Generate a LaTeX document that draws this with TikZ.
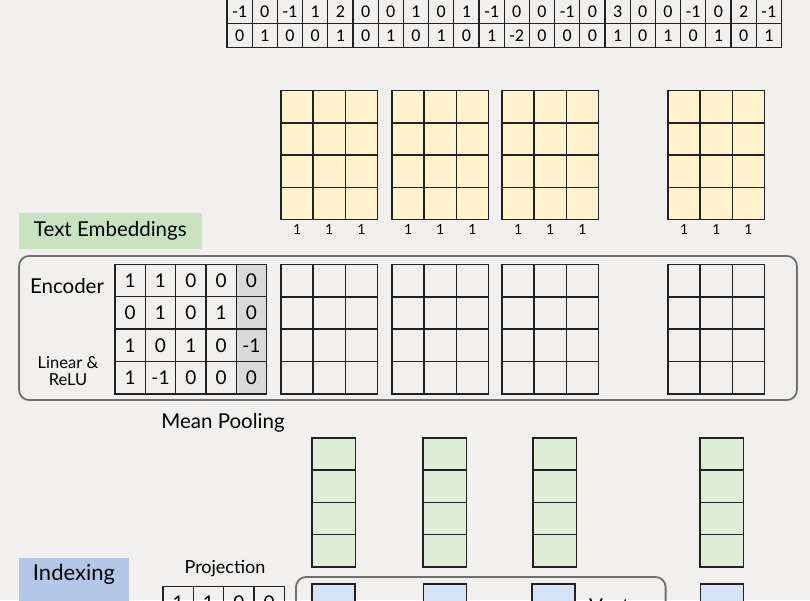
\documentclass[tikz,border=0pt]{standalone}
\usepackage{fontspec}
\setmainfont{Lato}
\newfontfamily\tablefont{Carlito}
\usepackage{tikz}

\definecolor{paper}{HTML}{F1F0EE}
\definecolor{yellowcell}{HTML}{FFF2CC}
\definecolor{greencell}{HTML}{DFEED7}
\definecolor{bluecell}{HTML}{D6E2F5}
\definecolor{greenlabel}{HTML}{C9E3C1}
\definecolor{bluelabel}{HTML}{B3C8E9}
\definecolor{graycell}{HTML}{D9D9D9}
\definecolor{framegray}{HTML}{707070}
\definecolor{ink}{HTML}{222222}

\begin{document}
\begin{tikzpicture}[x=1pt, y=-1pt,
    topcell/.style={draw=ink, line width=1.3pt, minimum width=25.2pt, minimum height=24.1pt, inner sep=0pt, font=\tablefont\fontsize{18}{18}\selectfont},
    cell/.style={draw=ink, line width=1.5pt, minimum width=32.2pt, minimum height=32.3pt, inner sep=0pt},
    numcell/.style={draw=ink, line width=1.5pt, minimum width=30.3pt, minimum height=32.4pt, inner sep=0pt, font=\fontsize{19}{19}\selectfont},
    group/.style={draw=framegray, line width=1.8pt, rounded corners=10pt},
    heading/.style={inner sep=0pt, font=\fontsize{20.5}{20.5}\selectfont},
    small/.style={inner sep=0pt, font=\fontsize{14}{14}\selectfont}]
  \useasboundingbox (0,0) rectangle (810,600);
  \fill[paper] (0,0) rectangle (810,600);
  \clip (0,0) rectangle (810,600);

  % token table
  \foreach \v [count=\c from 0] in {-1,0,-1,1,2,0,0,1,0,1,-1,0,0,-1,0,3,0,0,-1,0,2,-1}
    \node[topcell] (ta\c) at (239.6+25.2*\c, 11.3) {\v};
  \foreach \v [count=\c from 0] in {0,1,0,0,1,0,1,0,1,0,1,-2,0,0,0,1,0,1,0,1,0,1}
    \node[topcell] (tb\c) at (239.6+25.2*\c, 35.4) {\v};

  % token embeddings
  \foreach \x [count=\g] in {281,392,502,668} {
    \foreach \r in {0,...,3}
      \foreach \c in {0,1,2}
        \node[cell, fill=yellowcell] (y\g-\r-\c) at (\x+16.1+32.2*\c, 106.8+32.2*\r) {};
    \foreach \c in {0,1,2}
      \node[small] (w\g-\c) at (\x+16.1+32.2*\c, 229) {1};
  }

  \node[heading, fill=greenlabel, minimum width=182.7pt, minimum height=36.6pt] (embed) at (110.3,231) {Text Embeddings};

  % encoder
  \draw[group] (19,256) rectangle (797,400);
  \node[heading] (encoder) at (67,286) {Encoder};
  \node[small, align=center, font=\fontsize{16.5}{16.5}\selectfont] (relu) at (68,371) {Linear \&\\[1pt]ReLU};
  \foreach \row [count=\r from 0] in {{1,1,0,0,0},{0,1,0,1,0},{1,0,1,0,-1},{1,-1,0,0,0}}
    \foreach \v [count=\c from 0] in \row {
      \ifnum\c=4
        \node[numcell, fill=graycell] (m\r-\c) at (130.2+30.3*\c, 280.5+32.4*\r) {\v};
      \else
        \node[numcell] (m\r-\c) at (130.2+30.3*\c, 280.5+32.4*\r) {\v};
      \fi
    }
  \foreach \x [count=\g] in {281,392,502,668}
    \foreach \r in {0,...,3}
      \foreach \c in {0,1,2}
        \node[cell] (e\g-\r-\c) at (\x+16.1+32.2*\c, 280.5+32.4*\r) {};

  % mean pooling
  \node[heading] (pool) at (223,423) {Mean Pooling};
  \foreach \x [count=\g] in {333.8,444.8,554.8,721.8}
    \foreach \r in {0,...,3}
      \node[cell, minimum width=43.5pt, fill=greencell] (p\g-\r) at (\x, 454.1+32.2*\r) {};

  % indexing
  \fill[bluelabel] (19,558.3) rectangle (129,610);
  \node[heading, font=\fontsize{22}{22}\selectfont] (indexing) at (74,574) {Indexing};
  \node[heading, font=\fontsize{18}{18}\selectfont] (proj) at (225,569) {Projection};
  \foreach \v [count=\c from 0] in {1,1,0,0}
    \node[numcell] (q\c) at (178.2+30.3*\c, 602.7) {\v};
  \draw[group] (296,577) rectangle (665.6,660);
  \foreach \x [count=\g] in {333.5,445,553.3,722}
    \node[cell, minimum width=43pt, fill=bluecell] (v\g) at (\x, 600) {};
  \node[heading, anchor=west] (store) at (589,606) {Vect};
\end{tikzpicture}
\end{document}
